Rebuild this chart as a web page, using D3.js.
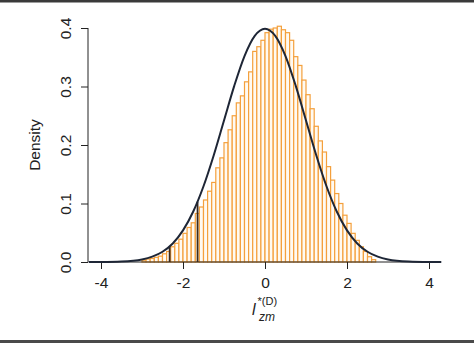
<!DOCTYPE html>
<html>
<head>
<meta charset="utf-8">
<script src="https://cdn.jsdelivr.net/npm/d3@7"></script>
<style>
  body { margin: 0; background: #fff; }
  svg { display: block; font-family: "Liberation Sans", Arial, sans-serif; }
</style>
</head>
<body>
<div id="chart"></div>
<script>
var svg_width = 474;
var svg_height = 343;

// histogram: left edge of first bin, bin width, densities
var binStart = -3.0;
var binWidth = 0.1;
var density = [
  0.003, 0.005, 0.006, 0.008, 0.010, 0.014, 0.018, 0.026, 0.032, 0.039,
  0.049, 0.059, 0.067, 0.083, 0.094, 0.106, 0.121, 0.136, 0.161, 0.178,
  0.204, 0.226, 0.250, 0.272, 0.284, 0.308, 0.325, 0.360, 0.368, 0.379,
  0.392, 0.398, 0.400, 0.403, 0.397, 0.392, 0.379, 0.351, 0.336, 0.311,
  0.286, 0.262, 0.232, 0.207, 0.188, 0.163, 0.140, 0.117, 0.100, 0.080,
  0.066, 0.049, 0.037, 0.026, 0.018, 0.009, 0.004
];

// reference N(0,1) curve, read points
var curveX = [-4.3, -4, -3.5, -3, -2.75, -2.5, -2.25, -2, -1.75, -1.5, -1.25, -1, -0.75, -0.5, -0.25,
  0, 0.25, 0.5, 0.75, 1, 1.25, 1.5, 1.75, 2, 2.25, 2.5, 2.75, 3, 3.5, 4, 4.3];
var curveY = [0.0000, 0.0001, 0.0009, 0.0044, 0.0091, 0.0175, 0.0317, 0.0540, 0.0863, 0.1295, 0.1826, 0.2420, 0.3011, 0.3521, 0.3867,
  0.3989, 0.3867, 0.3521, 0.3011, 0.2420, 0.1826, 0.1295, 0.0863, 0.0540, 0.0317, 0.0175, 0.0091, 0.0044, 0.0009, 0.0001, 0.0000];

// quantile markers
var qX = [-2.326, -1.645];
var qY = [0.0267, 0.1031];

var xTicks = [-4, -2, 0, 2, 4];
var yTicks = [0, 0.1, 0.2, 0.3, 0.4];

var svg = d3.select("#chart")
    .append("svg")
    .attr("width", svg_width)
    .attr("height", svg_height);

svg.append("rect").attr("x", 0).attr("y", 0).attr("width", svg_width).attr("height", 2.5).attr("fill", "#3a3a3a");
svg.append("rect").attr("x", 0).attr("y", 340).attr("width", svg_width).attr("height", 3).attr("fill", "#4a4a4a");

var x = d3.scaleLinear().domain([-4, 4]).range([101, 429]);
var y = d3.scaleLinear().domain([0, 0.4]).range([262, 28]);

// bars
svg.append("g")
  .selectAll("rect")
  .data(density)
  .enter()
  .append("rect")
  .attr("x", (d, i) => x(binStart + i * binWidth))
  .attr("y", d => y(d))
  .attr("width", x(binWidth) - x(0))
  .attr("height", d => y(0) - y(d))
  .attr("fill", "#fffaf2")
  .attr("stroke", "#f4a03c")
  .attr("stroke-width", 1.2);

// x axis (R style)
var xa = svg.append("g").attr("transform", "translate(0," + y(0) + ")")
  .call(d3.axisBottom(x).tickValues(xTicks).tickSize(7).tickPadding(8).tickFormat(d3.format("d")));
xa.select(".domain").attr("stroke", "#222").attr("d", "M" + x(-4) + ",0H" + x(4));
xa.selectAll("line").attr("stroke", "#222");
xa.selectAll("text").attr("font-size", "15.5px").attr("fill", "#222")
  .text(d => d < 0 ? "-" + Math.abs(d) : d);

// y axis
var ya = svg.append("g").attr("transform", "translate(88,0)")
  .call(d3.axisLeft(y).tickValues(yTicks).tickSize(7).tickFormat(d3.format(".1f")));
ya.select(".domain").attr("stroke", "#222").attr("d", "M0," + y(0) + "V" + y(0.4));
ya.selectAll("line").attr("stroke", "#222");
ya.selectAll("text")
  .attr("font-size", "15.5px").attr("fill", "#222")
  .attr("text-anchor", "middle")
  .attr("dy", "0")
  .attr("x", 0).attr("y", 0)
  .attr("transform", "translate(-17,0) rotate(-90)");

// quantile lines
svg.append("g")
  .selectAll("line")
  .data(qX)
  .enter()
  .append("line")
  .attr("x1", d => x(d)).attr("x2", d => x(d))
  .attr("y1", y(0)).attr("y2", (d, i) => y(qY[i]))
  .attr("stroke", "#3a2a1e").attr("stroke-width", 1.8);

// normal curve
var line = d3.line()
  .x((d, i) => x(curveX[i]))
  .y(d => y(d))
  .curve(d3.curveMonotoneX);
svg.append("path")
  .datum(curveY)
  .attr("d", line)
  .attr("fill", "none")
  .attr("stroke", "#1e2636")
  .attr("stroke-width", 2);

// labels
svg.append("text")
  .attr("transform", "translate(40,145) rotate(-90)")
  .attr("text-anchor", "middle")
  .attr("font-size", "15.5px")
  .attr("fill", "#222")
  .text("Density");

var xl = svg.append("text")
  .attr("x", 252).attr("y", 315)
  .attr("fill", "#222")
  .attr("font-size", "16px");
xl.append("tspan").attr("font-style", "italic").text("l");
xl.append("tspan").attr("dx", 2).attr("dy", -10).attr("font-size", "11px").text("*(D)");
xl.append("tspan").attr("x", 259).attr("dy", 16).attr("font-size", "12px").attr("font-style", "italic").text("zm");
</script>
</body>
</html>
